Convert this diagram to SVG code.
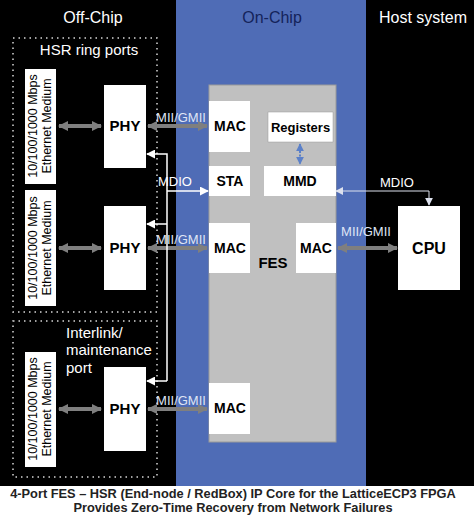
<svg xmlns="http://www.w3.org/2000/svg" width="474" height="521" viewBox="0 0 474 521">
<style>
.t{font-family:"Liberation Sans",Arial,sans-serif}
.hd{font-size:16px;fill:#fff}
.lb{font-size:15px;fill:#fff}
.b{font-weight:bold;fill:#000}
.box{fill:#fff}
.med{font-size:12.5px;fill:#000}
.mii{font-size:13px;fill:#dfe5f5}
.dot{fill:none;stroke:#d8d8d8;stroke-width:1.5;stroke-dasharray:1.5 4}
.g{stroke:#7f7f7f;stroke-width:4;fill:none}
.w{stroke:#fff;stroke-width:1.5;fill:none}
</style>
<defs>
<marker id="ga" viewBox="0 0 10 10" refX="9" refY="5" markerWidth="2.6" markerHeight="2.8" orient="auto-start-reverse" markerUnits="strokeWidth"><path d="M0,0L10,5L0,10z" fill="#7f7f7f"/></marker>
<marker id="wa" viewBox="0 0 10 10" refX="9" refY="5" markerWidth="6" markerHeight="6" orient="auto-start-reverse" markerUnits="strokeWidth"><path d="M0,0L10,5L0,10z" fill="#fff"/></marker>
<marker id="la" viewBox="0 0 10 10" refX="9" refY="5" markerWidth="8" markerHeight="8" orient="auto-start-reverse" markerUnits="strokeWidth"><path d="M0,0L10,5L0,10z" fill="#dde1ee"/></marker>
<marker id="ba" viewBox="0 0 10 10" refX="9" refY="5" markerWidth="4" markerHeight="4" orient="auto-start-reverse" markerUnits="strokeWidth"><path d="M0,0L10,5L0,10z" fill="#5b80c8"/></marker>
</defs>
<rect x="0" y="0" width="474" height="521" fill="#000"/>
<rect x="176" y="0" width="190" height="486" fill="#4f6cb6"/>
<rect x="0" y="486" width="474" height="35" fill="#fff"/>
<text class="t hd" x="93" y="23" text-anchor="middle">Off-Chip</text>
<text class="t hd" x="272" y="23" text-anchor="middle" style="fill:#14235a">On-Chip</text>
<text class="t hd" x="423" y="23" text-anchor="middle">Host system</text>
<g id="hsr-ports">
<rect class="dot" x="13" y="38" width="144" height="274"/>
<text class="t lb" x="89" y="55" text-anchor="middle">HSR ring ports</text>
</g>
<g id="interlink-port">
<rect class="dot" x="13" y="321" width="144" height="156"/>
<text class="t lb" x="66" y="338">Interlink/</text>
<text class="t lb" x="66" y="355">maintenance</text>
<text class="t lb" x="66" y="373">port</text>
</g>
<g id="medium1"><rect class="box" x="25" y="69" width="31" height="115"/>
<text class="t med" transform="translate(37,126) rotate(-90)" text-anchor="middle">10/100/1000 Mbps</text>
<text class="t med" transform="translate(51,126) rotate(-90)" text-anchor="middle">Ethernet Medium</text></g>
<g id="medium2"><rect class="box" x="25" y="190" width="31" height="116"/>
<text class="t med" transform="translate(37,248) rotate(-90)" text-anchor="middle">10/100/1000 Mbps</text>
<text class="t med" transform="translate(51,248) rotate(-90)" text-anchor="middle">Ethernet Medium</text></g>
<g id="medium3"><rect class="box" x="25" y="352" width="31" height="115"/>
<text class="t med" transform="translate(37,409) rotate(-90)" text-anchor="middle">10/100/1000 Mbps</text>
<text class="t med" transform="translate(51,409) rotate(-90)" text-anchor="middle">Ethernet Medium</text></g>
<g id="phy1"><rect class="box" x="104" y="85" width="42" height="83"/><text class="t b" x="125" y="131" font-size="15" text-anchor="middle">PHY</text></g>
<g id="phy2"><rect class="box" x="104" y="206" width="42" height="84"/><text class="t b" x="125" y="253" font-size="15" text-anchor="middle">PHY</text></g>
<g id="phy3"><rect class="box" x="104" y="367" width="42" height="84"/><text class="t b" x="125" y="414" font-size="15" text-anchor="middle">PHY</text></g>
<g id="fes">
<rect x="209" y="85" width="127" height="357" fill="#c0c0c0" stroke="#9a9a9a" stroke-width="1"/>
<text class="t b" x="273" y="268" font-size="15" text-anchor="middle">FES</text>
</g>
<g id="mac1"><rect class="box" x="209" y="101" width="41" height="51"/><text class="t b" x="230" y="131" font-size="14" text-anchor="middle">MAC</text></g>
<g id="sta"><rect class="box" x="209" y="166" width="41" height="30"/><text class="t b" x="230" y="186" font-size="14" text-anchor="middle">STA</text></g>
<g id="registers"><rect class="box" x="268" y="112" width="65" height="30" stroke="#999" stroke-width="0.5"/><text class="t b" x="300.5" y="132" font-size="13" text-anchor="middle">Registers</text></g>
<g id="mmd"><rect class="box" x="264" y="166" width="72" height="30"/><text class="t b" x="300" y="186" font-size="14" text-anchor="middle">MMD</text></g>
<g id="mac2"><rect class="box" x="209" y="223" width="41" height="50"/><text class="t b" x="230" y="253" font-size="14" text-anchor="middle">MAC</text></g>
<g id="mac3"><rect class="box" x="296" y="223" width="40" height="50"/><text class="t b" x="316" y="253" font-size="14" text-anchor="middle">MAC</text></g>
<g id="mac4"><rect class="box" x="209" y="383" width="41" height="51"/><text class="t b" x="230" y="413" font-size="14" text-anchor="middle">MAC</text></g>
<g id="cpu"><rect class="box" x="398" y="206" width="62" height="84"/><text class="t b" x="429" y="254" font-size="16" text-anchor="middle">CPU</text></g>
<g id="connectors">
<line class="g" x1="59" y1="126" x2="101" y2="126" marker-start="url(#ga)" marker-end="url(#ga)"/>
<line class="g" x1="59" y1="248" x2="101" y2="248" marker-start="url(#ga)" marker-end="url(#ga)"/>
<line class="g" x1="59" y1="409" x2="101" y2="409" marker-start="url(#ga)" marker-end="url(#ga)"/>
<line class="g" x1="148" y1="126" x2="207" y2="126" marker-start="url(#ga)" marker-end="url(#ga)"/>
<line class="g" x1="148" y1="248" x2="207" y2="248" marker-start="url(#ga)" marker-end="url(#ga)"/>
<line class="g" x1="148" y1="409" x2="207" y2="409" marker-start="url(#ga)" marker-end="url(#ga)"/>
<line class="g" x1="338" y1="248" x2="397" y2="248" marker-start="url(#ga)" marker-end="url(#ga)"/>
<text class="t mii" x="181" y="122" text-anchor="middle">MII/GMII</text>
<text class="t mii" x="181" y="244" text-anchor="middle">MII/GMII</text>
<text class="t mii" x="181" y="405" text-anchor="middle">MII/GMII</text>
<text class="t mii" x="366" y="236" text-anchor="middle">MII/GMII</text>
<path class="w" d="M167,381V154H147" marker-end="url(#wa)"/>
<path class="w" d="M167,224H147" marker-end="url(#wa)"/>
<path class="w" d="M167,381H147" marker-end="url(#wa)"/>
<path class="w" d="M167,191H208" marker-end="url(#wa)"/>
<text class="t mii" x="175" y="186" text-anchor="middle" style="fill:#fff">MDIO</text>
<path d="M336,191H429V205" fill="none" stroke="#dde1ee" stroke-width="1" marker-start="url(#la)" marker-end="url(#la)"/>
<text class="t mii" x="397" y="187" text-anchor="middle" style="fill:#fff">MDIO</text>
<line x1="300" y1="144" x2="300" y2="164" stroke="#5b80c8" stroke-width="2" stroke-dasharray="2 1.5" marker-start="url(#ba)" marker-end="url(#ba)"/>
</g>
<text class="t" x="233" y="498" font-size="12.8" font-weight="bold" fill="#222" text-anchor="middle">4-Port FES – HSR (End-node / RedBox) IP Core for the LatticeECP3 FPGA</text>
<text class="t" x="233" y="512" font-size="12.8" font-weight="bold" fill="#222" text-anchor="middle">Provides Zero-Time Recovery from Network Failures</text>
</svg>
